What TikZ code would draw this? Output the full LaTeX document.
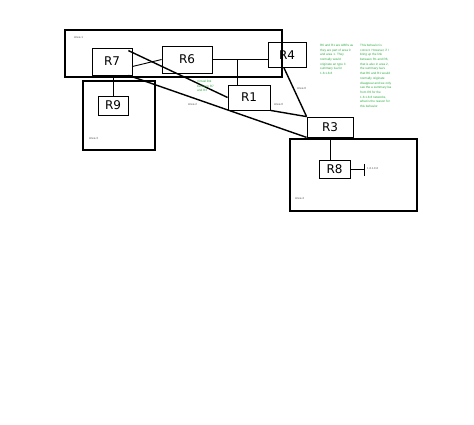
\documentclass[tikz,border=0pt]{standalone}
\usepackage{fontspec}
\setmainfont{DejaVu Sans}
\newfontfamily\notefont{Liberation Sans}
\definecolor{notegreen}{RGB}{40,170,60}
\definecolor{labelgray}{RGB}{90,90,90}
\begin{document}
\begin{tikzpicture}[x=1pt,y=-1pt,
  router/.style={draw,line width=0.8pt,inner sep=0pt,font=\fontsize{12}{12}\selectfont},
  area/.style={draw,line width=1.5pt},
  link/.style={line width=0.9pt},
  thicklink/.style={line width=1.4pt},
  arealabel/.style={font=\notefont\fontsize{3}{3.6}\selectfont,text=labelgray,inner sep=0pt,anchor=west},
  note/.style={font=\notefont\fontsize{3.1}{4.7}\selectfont,text=notegreen,inner sep=0pt,anchor=north west,align=left}]
\useasboundingbox (0,0) rectangle (474,424);
\fill[white] (0,0) rectangle (474,424);
% areas
\draw[area] (65,30) rectangle (282,77);
\draw[area] (83,81) rectangle (155,150);
\draw[area] (290,139) rectangle (417,211);
\node[arealabel] (a1) at (74,37) {Area 1};
\node[arealabel] (a3) at (89,138) {Area 3};
\node[arealabel] (a4) at (295,198) {Area 4};
% routers
\node[router,minimum width=40pt,minimum height=27pt] (R7) at (112,61.5) {R7};
\node[router,minimum width=50pt,minimum height=27pt] (R6) at (187,59.5) {R6};
\node[router,minimum width=38pt,minimum height=25pt] (R4) at (287,55) {R4};
\node[router,minimum width=42pt,minimum height=25pt] (R1) at (249,97.5) {R1};
\node[router,minimum width=46pt,minimum height=20pt] (R3) at (330,127) {R3};
\node[router,minimum width=31pt,minimum height=18pt] (R8) at (334.5,169) {R8};
\node[router,minimum width=30pt,minimum height=19pt] (R9) at (113,105.5) {R9};
% links
\draw[link] ([yshift=-5pt]R7.east) -- (R6.west);
\draw[link] (R6.east) -- (R6.east -| R4.west);
\coordinate (J) at (237,59.5);
\draw[link] (J) -- (J |- R1.north);
\draw[thicklink] ([xshift=-4pt,yshift=-3pt]R7.north east) -- (R1.west);
\draw[thicklink] ([xshift=-4pt]R7.south east) -- (R3.south west);
\draw[thicklink] (R1.south east) -- (R3.north west);
\draw[thicklink] ([xshift=-3pt]R4.south) -- (R3.north west);
\draw[link] (R9.north) -- (R9.north |- R7.south);
\draw[link] (R3.south) -- (R3.south |- R8.north);
\coordinate (net) at (364,169);
\draw[link] (R8.east) -- (net);
\draw[link] ([yshift=5pt]net) -- ([yshift=-7pt]net);
\node[arealabel,font=\notefont\fontsize{2.8}{3}\selectfont] (netl) at (367,169) {1.8.1.8.8};
% link labels
\node[arealabel] (l2) at (188,104) {Area 2};
\node[arealabel] (l0a) at (274,104) {Area 0};
\node[arealabel] (l0b) at (297,88) {Area 0};
% notes
\node[note] (vl) at (197,80) {Virtual link\\between R7\\and R3};
\node[note] (n1) at (320,44) {R6 and R1 are ABRs as\\they are part of area 0\\and area 1. They\\normally would\\originate an type 3\\summary lsa for\\1.8.1.8.8};
\node[note] (n2) at (360,44) {This behavior is\\correct. However, if I\\bring up the link\\between R1 and R6,\\that is also in area 2,\\the summary lsa's\\that R6 and R1 would\\normally originate\\disappear and we only\\see the a summary lsa\\from R6 for the\\1.8.1.8.8 networks,\\what is the reason for\\this behavior.};
\end{tikzpicture}
\end{document}
